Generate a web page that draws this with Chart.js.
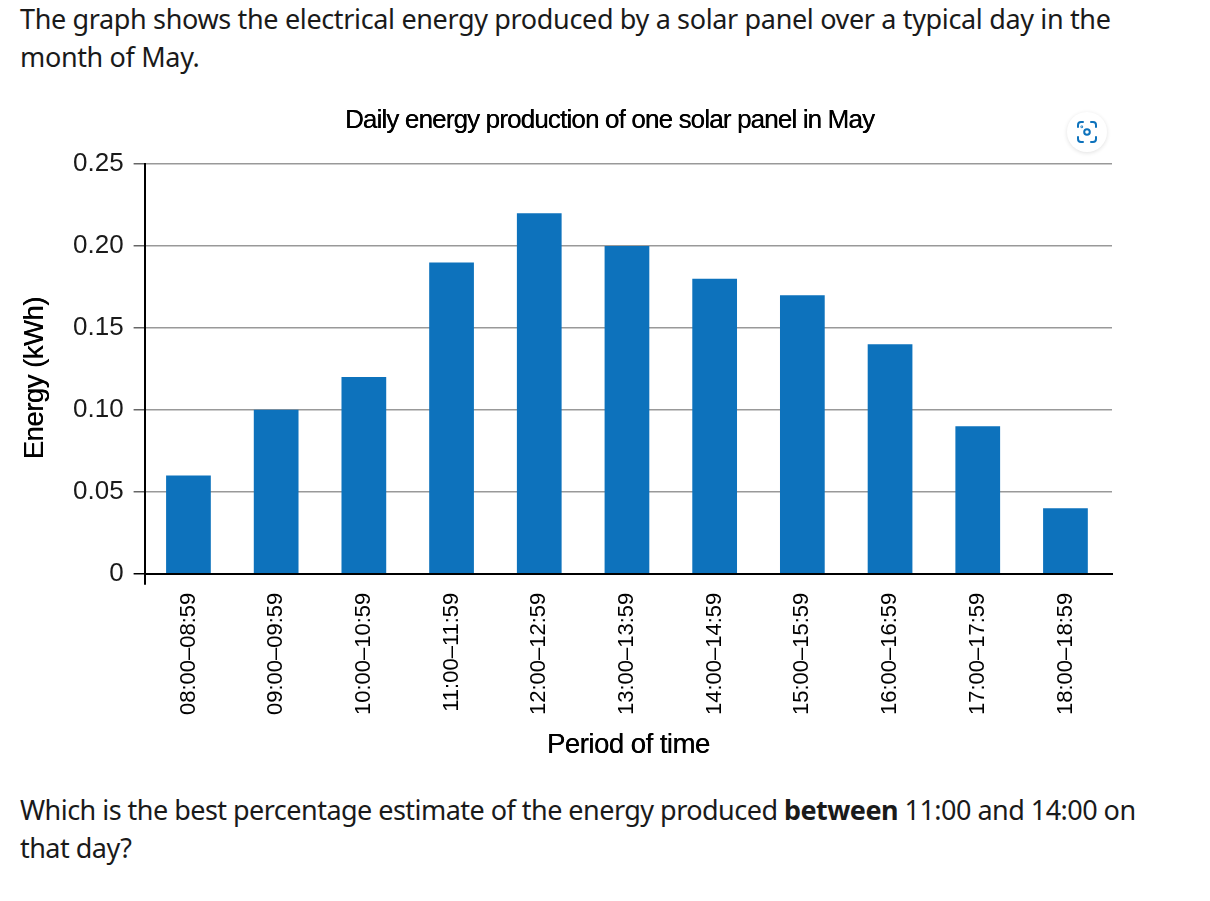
<!DOCTYPE html>
<html>
<head>
<meta charset="utf-8">
<title>Daily energy production</title>
<script src="https://cdn.jsdelivr.net/npm/chart.js@4"></script>
<style>
    html, body { margin: 0; padding: 0; background: #fff; }
    body { width: 1210px; height: 901px; position: relative; overflow: hidden; }
    .question {
        position: absolute;
        left: 20px;
        width: 1140px;
        margin: 0;
        font-family: 'Noto Sans', sans-serif;
        font-size: 27px;
        line-height: 38px;
        color: #1a1a1a;
    }
    #intro { top: 0; letter-spacing: -0.35px; }
    #prompt { top: 791px; letter-spacing: -0.53px; }
    #chartBox { position: absolute; left: 0; top: 96px; width: 1210px; height: 666px; }
    #zoomBtn {
        position: absolute;
        left: 1067px;
        top: 112px;
        width: 40px;
        height: 40px;
        border-radius: 50%;
        background: #fff;
        box-shadow: 0 1px 4px rgba(0, 0, 0, 0.12);
    }
</style>
</head>
<body>
<p class="question" id="intro">The graph shows the electrical energy produced by a solar panel over a typical day in the month of May.</p>
<div id="chartBox"><canvas id="energyChart" width="1210" height="666"></canvas></div>
<div id="zoomBtn">
    <svg width="40" height="40" viewBox="0 0 40 40" fill="none" stroke="#0d72bc" stroke-width="2" stroke-linecap="round">
        <path d="M11 15v-2a3 3 0 0 1 3-3h2M24 10h2a3 3 0 0 1 3 3v2M29 25v2a3 3 0 0 1-3 3H24M16 30h-2a3 3 0 0 1-3-3v-2"/>
        <circle cx="20" cy="20" r="2.800"/>
        <circle cx="14.800" cy="14.800" r="0.400"/>
    </svg>
</div>
<p class="question" id="prompt">Which is the best percentage estimate of the energy produced <b>between</b> 11:00 and 14:00 on that day?</p>

<script>
const periods = ['08:00–08:59', '09:00–09:59', '10:00–10:59', '11:00–11:59', '12:00–12:59', '13:00–13:59',
    '14:00–14:59', '15:00–15:59', '16:00–16:59', '17:00–17:59', '18:00–18:59'];
const energy = [0.06, 0.10, 0.12, 0.19, 0.22, 0.20, 0.18, 0.17, 0.14, 0.09, 0.04];
const yTicks = [0, 0.05, 0.10, 0.15, 0.20, 0.25];

const labelFont = "'Liberation Sans', Arial, sans-serif";

// Draws a title twice with tight tracking so it reads heavier than the tick labels
function tightTitle(owner, method, spacing, shiftY) {
    const draw = owner[method];
    owner[method] = function (...args) {
        const ctx = owner.ctx;
        ctx.save();
        ctx.letterSpacing = spacing;
        ctx.translate(0, shiftY);
        draw.apply(owner, args);
        ctx.translate(0.3, 0.3);
        draw.apply(owner, args);
        ctx.restore();
    };
}

const titleStyle = {
    id: 'titleStyle',
    afterLayout(chart) {
        // the chart title sits over the plot rather than over the whole canvas
        chart.titleBlock.left = 107;
        chart.titleBlock.right = 1112;
        tightTitle(chart.titleBlock, 'draw', '-0.85px', 0);
        tightTitle(chart.scales.x, 'drawTitle', '-0.5px', 0);
        tightTitle(chart.scales.y, 'drawTitle', '-0.5px', 9);
        // categories stop a little short of the right end of the gridlines
        chart.scales.x._length = 964.7;
    }
};

new Chart(document.getElementById('energyChart'), {
    type: 'bar',
    plugins: [titleStyle],
    data: {
        labels: periods,
        datasets: [{
            data: energy,
            backgroundColor: '#0d72bc',
            borderWidth: 0,
            barPercentage: 0.51,
            categoryPercentage: 1
        }]
    },
    options: {
        responsive: false,
        animation: false,
        layout: { padding: { left: 19, right: 98, top: 0, bottom: 0 } },
        plugins: {
            legend: { display: false },
            tooltip: { enabled: false },
            title: {
                display: true,
                text: 'Daily energy production of one solar panel in May',
                color: '#000',
                font: { family: labelFont, size: 26, weight: 'normal' },
                padding: { top: 9, bottom: 28 }
            }
        },
        scales: {
            x: {
                grid: {
                    drawOnChartArea: false,
                    tickLength: 11,
                    lineWidth: 2,
                    // only the first boundary tick is visible, it prolongs the y axis
                    tickColor: ctx => ctx.index === 0 ? '#000' : 'transparent'
                },
                border: { color: '#000', width: 2 },
                ticks: {
                    color: '#000',
                    font: { family: labelFont, size: 22 },
                    minRotation: 90,
                    maxRotation: 90,
                    autoSkip: false,
                    padding: 8
                },
                title: {
                    display: true,
                    text: 'Period of time',
                    color: '#000',
                    font: { family: labelFont, size: 27.5 },
                    padding: { top: 6, bottom: 0 }
                }
            },
            y: {
                min: 0,
                max: 0.25,
                afterBuildTicks: axis => { axis.ticks = yTicks.map(value => ({ value })); },
                grid: {
                    color: '#999',
                    tickColor: ctx => ctx.tick.value === 0 ? '#000' : '#666',
                    tickLength: 11,
                    lineWidth: 1.5
                },
                border: { color: '#000', width: 2 },
                ticks: {
                    color: '#1a1a1a',
                    font: { family: labelFont, size: 26 },
                    padding: 10,
                    callback: value => value === 0 ? '0' : value.toFixed(2)
                },
                title: {
                    display: true,
                    text: 'Energy (kWh)',
                    color: '#000',
                    font: { family: labelFont, size: 27.5 },
                    padding: { top: 0, bottom: 11 }
                }
            }
        }
    }
});
</script>
</body>
</html>
